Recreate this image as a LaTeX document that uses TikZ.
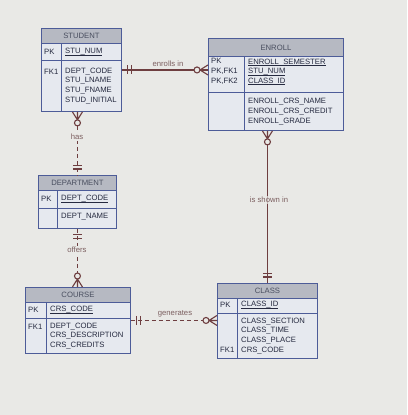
\documentclass[tikz,border=0pt]{standalone}
\usepackage{fontspec}
\setmainfont{Liberation Sans}
\definecolor{bgc}{HTML}{E9E9E6}
\definecolor{boxc}{HTML}{4D5C98}
\definecolor{bodyc}{HTML}{E6E9EF}
\definecolor{headc}{HTML}{B6B9C2}
\definecolor{txtc}{HTML}{262A40}
\definecolor{htxtc}{HTML}{4A4F60}
\definecolor{relc}{HTML}{6E3E40}
\definecolor{lblc}{HTML}{7C5F60}
\newcommand\keyul[1]{\setbox0\hbox{#1}\rlap{\rule[-1.3pt]{\wd0}{0.55pt}}\box0}
\begin{document}
\begin{tikzpicture}[x=1pt,y=-1pt,
  font=\fontsize{7.7}{9}\selectfont,
  ent/.style={draw=boxc, fill=bodyc, line width=0.9pt, inner sep=0pt, anchor=north west},
  hdr/.style={draw=boxc, fill=headc, line width=0.9pt, inner sep=0pt, anchor=north west},
  htxt/.style={text=htxtc, inner sep=0pt},
  txt/.style={text=txtc, inner sep=0pt, anchor=west},
  blk/.style={text=txtc, inner sep=0pt, anchor=north west, align=left, font=\fontsize{7.7}{9.8}\selectfont},
  bline/.style={draw=boxc, line width=0.9pt},
  rel/.style={draw=relc, line width=1.1pt},
  rdash/.style={draw=relc, line width=1.1pt, dash pattern=on 4pt off 3pt},
  lbl/.style={text=lblc, inner sep=1pt},
  one/.pic={\draw[relc, line width=1.1pt] (6,-4.5) -- (6,4.5) (9.5,-4.5) -- (9.5,4.5);},
  zmany/.pic={\draw[relc, line width=1.1pt] (0,-5) -- (8,0) -- (0,5) (0,0) -- (8,0);
              \draw[relc, line width=1.1pt, fill=bgc] (11,0) circle (3);}
]
\fill[bgc] (0,0) rectangle (407,415);
\useasboundingbox (0,0) rectangle (407,415);

% ---------- STUDENT ----------
\node[ent, minimum width=80pt, minimum height=83pt] (student) at (41,28) {};
\node[hdr, minimum width=80pt, minimum height=15pt] (studentH) at (41,28) {};
\node[htxt] (studentT) at (studentH.center) {STUDENT};
\draw[bline] (41,60) -- (121,60) (61,43) -- (61,111);
\node[txt] (s1) at (44,52) {PK};
\node[txt] (s2) at (65,52) {\keyul{STU\_NUM}};
\node[txt] (s3) at (44,72) {FK1};
\node[blk] (s4) at (65,67.5) {DEPT\_CODE\\STU\_LNAME\\STU\_FNAME\\STUD\_INITIAL};

% ---------- ENROLL ----------
\node[ent, minimum width=135pt, minimum height=92pt] (enroll) at (208,38) {};
\node[hdr, minimum width=135pt, minimum height=18pt] (enrollH) at (208,38) {};
\node[htxt] (enrollT) at (enrollH.center) {ENROLL};
\draw[bline] (208,92) -- (343,92) (244,56) -- (244,130);
\node[blk] (e1) at (211,58.5) {PK\\PK,FK1\\PK,FK2};
\node[blk] (e2) at (248,58.5) {\keyul{ENROLL\_SEMESTER}\\\keyul{STU\_NUM}\\\keyul{CLASS\_ID}};
\node[blk] (e3) at (248,98) {ENROLL\_CRS\_NAME\\ENROLL\_CRS\_CREDIT\\ENROLL\_GRADE};

% ---------- DEPARTMENT ----------
\node[ent, minimum width=78pt, minimum height=53pt] (dept) at (38,175) {};
\node[hdr, minimum width=78pt, minimum height=15pt] (deptH) at (38,175) {};
\node[htxt] (deptT) at (deptH.center) {DEPARTMENT};
\draw[bline] (38,208) -- (116,208) (57,190) -- (57,228);
\node[txt] (d1) at (41,199) {PK};
\node[txt] (d2) at (61,199) {\keyul{DEPT\_CODE}};
\node[txt] (d3) at (61,217) {DEPT\_NAME};

% ---------- COURSE ----------
\node[ent, minimum width=105pt, minimum height=66pt] (course) at (25,287) {};
\node[hdr, minimum width=105pt, minimum height=15pt] (courseH) at (25,287) {};
\node[htxt] (courseT) at (courseH.center) {COURSE};
\draw[bline] (25,318) -- (130,318) (46,302) -- (46,353);
\node[txt] (c1) at (28,310) {PK};
\node[txt] (c2) at (50,310) {\keyul{CRS\_CODE}};
\node[txt] (c3) at (28,327) {FK1};
\node[blk] (c4) at (50,322.5) {DEPT\_CODE\\CRS\_DESCRIPTION\\CRS\_CREDITS};

% ---------- CLASS ----------
\node[ent, minimum width=100pt, minimum height=75pt] (class) at (217,283) {};
\node[hdr, minimum width=100pt, minimum height=15pt] (classH) at (217,283) {};
\node[htxt] (classT) at (classH.center) {CLASS};
\draw[bline] (217,313) -- (317,313) (237,298) -- (237,358);
\node[txt] (k1) at (220,305) {PK};
\node[txt] (k2) at (241,305) {\keyul{CLASS\_ID}};
\node[blk] (k3) at (241,317.5) {CLASS\_SECTION\\CLASS\_TIME\\CLASS\_PLACE\\CRS\_CODE};
\node[txt] (k4) at (220,350) {FK1};

% ---------- relationships ----------
% enrolls in
\coordinate (enA) at (student.east);
\coordinate (enB) at (enroll.west |- student.east);
\draw[rel] (enA) -- (enB);
\pic[rotate=0] at (enA) {one};
\pic[rotate=180] at (enB) {zmany};
\node[lbl] (enL) at (168,64) {enrolls in};

% has
\coordinate (hsA) at (student.south -| dept.north);
\coordinate (hsB) at (dept.north);
\draw[rdash] (hsA) -- (hsB);
\pic[rotate=-90] at (hsA) {zmany};
\pic[rotate=90] at (hsB) {one};
\node[lbl, fill=bgc] (hsL) at (77,137) {has};

% offers
\coordinate (ofA) at (dept.south);
\coordinate (ofB) at (course.north -| dept.south);
\draw[rdash] (ofA) -- (ofB);
\pic[rotate=-90] at (ofA) {one};
\pic[rotate=90] at (ofB) {zmany};
\node[lbl, fill=bgc] (ofL) at (77,250) {offers};

% is shown in
\coordinate (isA) at (enroll.south -| class.north);
\coordinate (isB) at (class.north);
\draw[rel] (isA) -- (isB);
\pic[rotate=-90] at (isA) {zmany};
\pic[rotate=90] at (isB) {one};
\node[lbl, fill=bgc, fill opacity=0.7, text opacity=1] (isL) at (269,200) {is shown in};

% generates
\coordinate (gnA) at (course.east);
\coordinate (gnB) at (class.west |- course.east);
\draw[rdash] (gnA) -- (gnB);
\pic[rotate=0] at (gnA) {one};
\pic[rotate=180] at (gnB) {zmany};
\node[lbl] (gnL) at (175,314) {generates};
\end{tikzpicture}
\end{document}
